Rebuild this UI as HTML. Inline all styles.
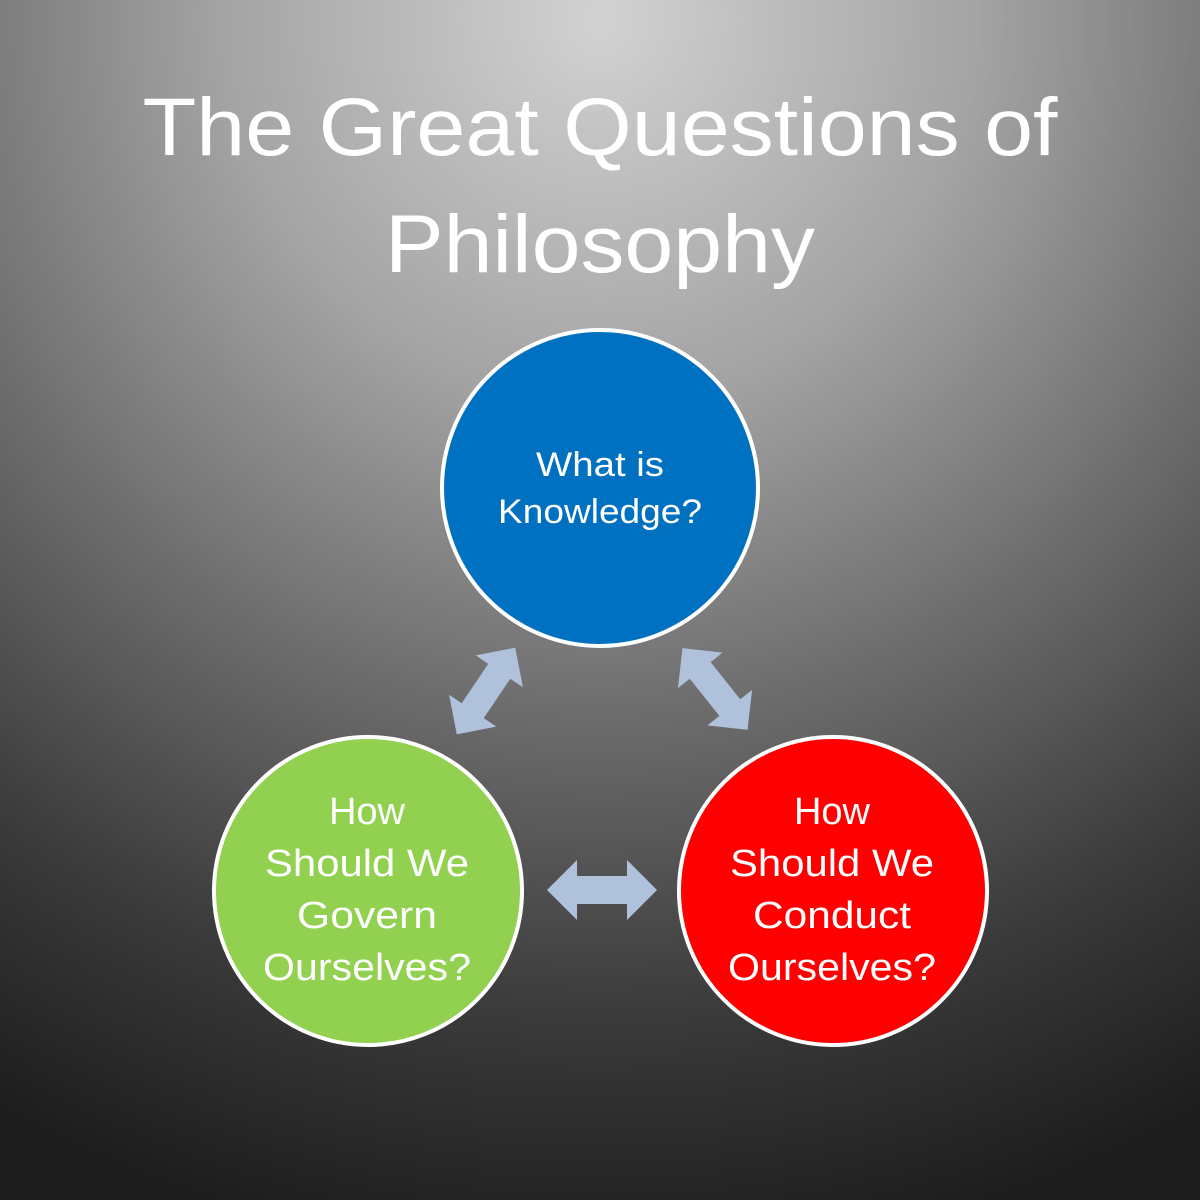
<!DOCTYPE html>
<html><head><meta charset="utf-8"><style>
html,body{margin:0;padding:0;width:1200px;height:1200px;overflow:hidden}
svg{display:block}
text{font-family:"Liberation Sans",sans-serif;fill:#fff}
</style></head><body>
<svg width="1200" height="1200" viewBox="0 0 1200 1200">
<defs>
<radialGradient id="bg" cx="600" cy="20" r="1250" gradientUnits="userSpaceOnUse">
<stop offset="0" stop-color="#d2d2d2"/>
<stop offset="0.3" stop-color="#a4a4a4"/>
<stop offset="0.55" stop-color="#6e6e6e"/>
<stop offset="0.8" stop-color="#3a3a3a"/>
<stop offset="1" stop-color="#1c1c1c"/>
</radialGradient>
<path id="arr" d="M-55,0 L-25,-30 L-25,-14 L25,-14 L25,-30 L55,0 L25,30 L25,14 L-25,14 L-25,30 Z" fill="#b0c1dc"/>
</defs>
<rect width="1200" height="1200" fill="url(#bg)"/>
<text x="600" y="155" font-size="82" text-anchor="middle" textLength="915" lengthAdjust="spacingAndGlyphs">The Great Questions of</text>
<text x="600" y="272" font-size="82" text-anchor="middle" textLength="430" lengthAdjust="spacingAndGlyphs">Philosophy</text>

<circle cx="600" cy="488" r="158" fill="#0070c0" stroke="#fff" stroke-width="4"/>
<circle cx="368" cy="891" r="154" fill="#92d050" stroke="#fff" stroke-width="4"/>
<circle cx="833" cy="891" r="154" fill="#ff0000" stroke="#fff" stroke-width="4"/>

<g font-size="34" text-anchor="middle">
<text x="600" y="476" textLength="128" lengthAdjust="spacingAndGlyphs">What is</text>
<text x="600" y="523" textLength="204" lengthAdjust="spacingAndGlyphs">Knowledge?</text>
</g>
<g font-size="38" text-anchor="middle">
<text x="367" y="824">How</text>
<text x="367" y="876" textLength="204" lengthAdjust="spacingAndGlyphs">Should We</text>
<text x="367" y="928" textLength="140" lengthAdjust="spacingAndGlyphs">Govern</text>
<text x="367" y="980" textLength="208" lengthAdjust="spacingAndGlyphs">Ourselves?</text>
<text x="832" y="824">How</text>
<text x="832" y="876" textLength="204" lengthAdjust="spacingAndGlyphs">Should We</text>
<text x="832" y="928" textLength="158" lengthAdjust="spacingAndGlyphs">Conduct</text>
<text x="832" y="980" textLength="208" lengthAdjust="spacingAndGlyphs">Ourselves?</text>
</g>

<use href="#arr" transform="translate(602,890)"/>
<use href="#arr" transform="translate(486,691) rotate(-56) scale(0.95)"/>
<use href="#arr" transform="translate(715,689) rotate(51.5) scale(0.95)"/>
</svg>
</body></html>
